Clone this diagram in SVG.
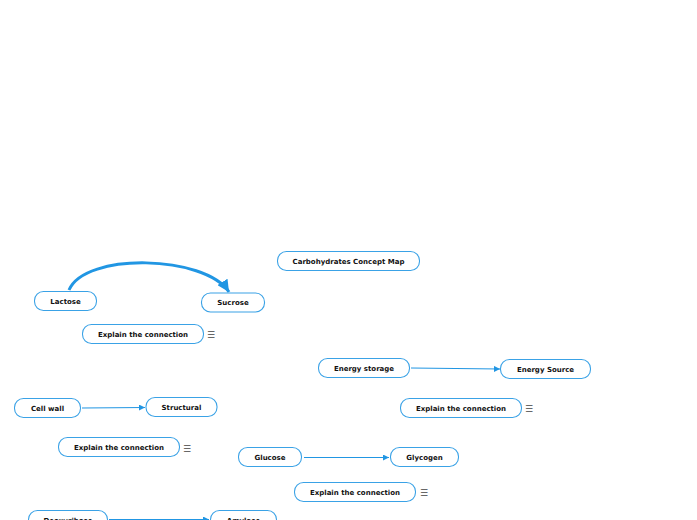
<svg xmlns="http://www.w3.org/2000/svg" width="697" height="520" viewBox="0 0 697 520">
<style>
.n rect{fill:#fff;stroke:#3aa2e6;stroke-width:1.1}
.n text{font-family:"DejaVu Sans",Verdana,sans-serif;font-weight:bold;font-size:7px;fill:#111;text-anchor:middle;dominant-baseline:central}
.m{font-family:"DejaVu Sans",sans-serif;font-size:9px;fill:#444;dominant-baseline:central}
.c{fill:none;stroke:#2196e3;stroke-width:1.2}
.c.thick{stroke-width:3}
</style>
<defs>
<marker id="a" viewBox="0 0 10 10" refX="10" refY="5" markerWidth="6" markerHeight="6" markerUnits="userSpaceOnUse" orient="auto"><path d="M0,0L10,5L0,10z" fill="#2196e3"/></marker>
<marker id="b" viewBox="0 0 10 10" refX="10" refY="5" markerWidth="12" markerHeight="12" markerUnits="userSpaceOnUse" orient="auto"><path d="M0,0L10,5L0,10z" fill="#2196e3"/></marker>
</defs>
<rect width="697" height="520" fill="#fff"/>
<g id="connectors">
<path class="c thick" d="M69,290 C85,252 205,255 229,292" marker-end="url(#b)"/>
<path class="c" d="M411,368 L500,369" marker-end="url(#a)"/>
<path class="c" d="M82,408 L145,407.5" marker-end="url(#a)"/>
<path class="c" d="M304,457.5 L389,457.5" marker-end="url(#a)"/>
<path class="c" d="M109,519.5 L209,519.5" marker-end="url(#a)"/>
</g>
<g id="title" class="n"><rect x="277.5" y="251.5" width="142" height="19" rx="9"/><text x="348.5" y="261.5">Carbohydrates Concept Map</text></g>
<g id="lactose" class="n"><rect x="34.5" y="291.5" width="62" height="19" rx="9"/><text x="65.5" y="301.5">Lactose</text></g>
<g id="sucrose" class="n"><rect x="201.5" y="293" width="63" height="19" rx="9"/><text x="233" y="303">Sucrose</text></g>
<g id="explain1" class="n"><rect x="82.5" y="324.5" width="121" height="19" rx="9"/><text x="143" y="334.5">Explain the connection</text></g>
<text class="m" x="207" y="335">☰</text>
<g id="energy-storage" class="n"><rect x="318.5" y="358.5" width="91" height="19" rx="9"/><text x="364" y="368.5">Energy storage</text></g>
<g id="energy-source" class="n"><rect x="500.5" y="359.5" width="90" height="19" rx="9"/><text x="545.5" y="369.5">Energy Source</text></g>
<g id="explain2" class="n"><rect x="400.5" y="398.5" width="121" height="19" rx="9"/><text x="461" y="408.5">Explain the connection</text></g>
<text class="m" x="525" y="408.5">☰</text>
<g id="cell-wall" class="n"><rect x="14.5" y="398.5" width="66" height="19" rx="9"/><text x="47.5" y="408.5">Cell wall</text></g>
<g id="structural" class="n"><rect x="146" y="397.5" width="71" height="19" rx="9"/><text x="181.5" y="407.5">Structural</text></g>
<g id="explain3" class="n"><rect x="58.5" y="437.5" width="121" height="19" rx="9"/><text x="119" y="447.5">Explain the connection</text></g>
<text class="m" x="183" y="448.5">☰</text>
<g id="glucose" class="n"><rect x="238.5" y="447.5" width="63" height="19" rx="9"/><text x="270" y="457.5">Glucose</text></g>
<g id="glycogen" class="n"><rect x="390.5" y="447.5" width="68" height="19" rx="9"/><text x="424.5" y="457.5">Glycogen</text></g>
<g id="explain4" class="n"><rect x="294.5" y="482.5" width="121" height="19" rx="9"/><text x="355" y="492.5">Explain the connection</text></g>
<text class="m" x="420" y="492.5">☰</text>
<g id="deoxyribose" class="n"><rect x="28.5" y="510.5" width="79" height="19" rx="9"/><text x="68" y="521">Deoxyribose</text></g>
<g id="amylase" class="n"><rect x="210.5" y="510.5" width="66" height="19" rx="9"/><text x="243.5" y="521">Amylase</text></g>
</svg>
